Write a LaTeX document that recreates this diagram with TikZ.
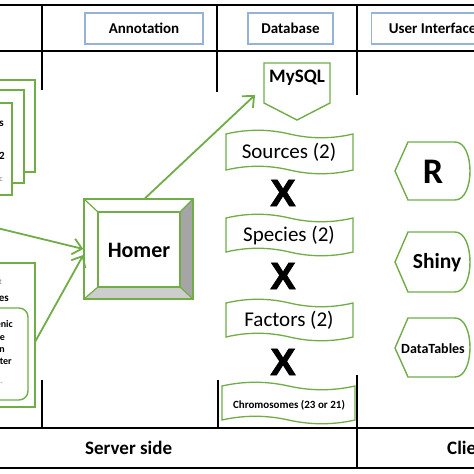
\documentclass[tikz,border=0pt]{standalone}
\usepackage{fontspec}
\setmainfont{Carlito}
\newfontfamily\xfont{Liberation Sans Bold}[FakeBold=2]
\usetikzlibrary{arrows.meta,calc}
\definecolor{grn}{RGB}{112,173,71}
\definecolor{hdr}{RGB}{149,179,215}
\definecolor{bevdark}{RGB}{165,165,165}
\definecolor{bevlight}{RGB}{205,205,205}
\tikzset{
  frame/.style={line width=2.2pt, black},
  hdrbox/.style={draw=hdr, line width=1.3pt, fill=white, inner sep=0pt, font=\fontsize{15}{17}\selectfont\bfseries},
  gbox/.style={draw=grn, line width=1.4pt, fill=white},
  tapebox/.style={draw=grn, line width=1.3pt, fill=white},
  garrow/.style={draw=grn, line width=1.8pt, -{Straight Barb[length=9pt,width=16pt]}},
  bigx/.style={font=\xfont\fontsize{38}{40}\selectfont},
  sidetxt/.style={font=\fontsize{19}{21}\selectfont\bfseries},
  lefttxt/.style={anchor=east, inner sep=0pt, font=\fontsize{11}{12}\selectfont\bfseries},
}
\newcommand\tapeshape[4]{%
  \pgfmathsetmacro\tw{#3-#1}%
  \draw[tapebox] (#1,#2) .. controls ({#1+\tw/6},{#2-5}) and ({#1+\tw/3},{#2-5}) .. ({#1+\tw/2},#2)
    .. controls ({#1+2*\tw/3},{#2+5}) and ({#1+5*\tw/6},{#2+5}) .. (#3,#2)
    -- (#3,#4) .. controls ({#1+5*\tw/6},{#4+5}) and ({#1+2*\tw/3},{#4+5}) .. ({#1+\tw/2},#4)
    .. controls ({#1+\tw/3},{#4-5}) and ({#1+\tw/6},{#4-5}) .. (#1,#4) -- cycle;}
\newcommand\dispshape[3]{% top mid bottom
  \draw[gbox] (395,#2) -- (408,#1) -- (455,#1) .. controls (475,#1) and (475,#3) .. (455,#3) -- (408,#3) -- cycle;}
\begin{document}
\begin{tikzpicture}[x=1pt,y=-1pt]
\useasboundingbox (0,0) rectangle (474,474);
\clip (0,0) rectangle (474,474);
\fill[white] (0,0) rectangle (474,474);

% frame lines
\draw[frame] (-5,5) -- (480,5);
\draw[frame] (-5,51) -- (480,51);
\draw[frame] (-5,428) -- (480,428);
\draw[frame] (-5,468) -- (480,468);
\draw[frame] (42,5) -- (42,90);
\draw[frame] (217,5) -- (217,92);
\draw[frame] (357,5) -- (357,95);
\draw[frame] (42,380) -- (42,428);
\draw[frame] (218,380) -- (218,428);
\draw[frame] (357,375) -- (357,468);

% headers
\node[hdrbox, minimum width=118pt, minimum height=31pt] (hann) at (144,28.5) {Annotation};
\node[hdrbox, minimum width=85pt, minimum height=31pt] (hdb) at (290.5,28.5) {Database};
\node[hdrbox, minimum width=110pt, minimum height=31pt, anchor=west] (hui) at (371,28.5) {\hspace*{12pt}User Interface\hfill};

% bottom labels
\node[sidetxt, anchor=west, inner sep=0pt] (server) at (85,448) {Server side};
\node[sidetxt, anchor=west, inner sep=0pt] (client) at (447,448) {Client side};

% left document stack
\draw[gbox] (-60,80) rectangle (35,172);
\draw[gbox] (-60,90) rectangle (24,183);
\draw[gbox] (-60,103) rectangle (12,195);
\node[lefttxt] (d1) at (4,123) {Peaks};
\node[lefttxt] (d2) at (5,157) {Rep 1 \& 2};
\node[lefttxt, font=\fontsize{8}{9}\selectfont, text=gray] (d3) at (3,179) {bed, etc};
\coordinate (stack) at (-3,228);

% lower left box
\draw[gbox] (-90,263) rectangle (35,407);
\coordinate (lowbox) at (35,342);
\node[lefttxt, font=\fontsize{8}{9}\selectfont, text=gray] (t1) at (2,283) {Input};
\node[lefttxt] (t2) at (9,298) {Genomic features};
\draw[gbox, rounded corners=9pt] (-70,308) rectangle (28,400);
\node[lefttxt, font=\fontsize{10}{11}\selectfont\bfseries] (f1) at (13,325) {Intergenic};
\node[lefttxt, font=\fontsize{10}{11}\selectfont\bfseries] (f2) at (5,337) {Exon base};
\node[lefttxt, font=\fontsize{10}{11}\selectfont\bfseries] (f3) at (5,349) {Intron};
\node[lefttxt, font=\fontsize{10}{11}\selectfont\bfseries] (f4) at (12,361) {Promoter};
\node[lefttxt, font=\fontsize{8}{9}\selectfont, text=gray] (f5) at (3,383) {TSS -};

% Homer bevel box
\node[draw=grn, line width=1.4pt, fill=white, minimum width=109pt, minimum height=100pt, inner sep=0pt] (homer) at (138.5,249) {};
\fill[bevdark] (193,199) -- (193,299) -- (180,287) -- (180,212) -- cycle;
\fill[bevlight] (84,299) -- (193,299) -- (180,287) -- (98,287) -- cycle;
\draw[grn, line width=1.4pt] (84,199) rectangle (193,299);
\draw[grn, line width=1.4pt] (98,212) rectangle (180,287);
\draw[grn, line width=1.2pt] (84,199) -- (98,212) (193,199) -- (180,212) (84,299) -- (98,287) (193,299) -- (180,287);
\node[font=\fontsize{22}{24}\selectfont\bfseries] (homertxt) at (139,250) {Homer};

% MySQL
\draw[gbox] (264,63) -- (330,63) -- (330,103) -- (297,120) -- (264,103) -- cycle;
\node[font=\fontsize{19}{21}\selectfont\bfseries] (mysql) at (297,78) {MySQL};
\coordinate (mysqlin) at (255,95);

% tapes
\tapeshape{226}{134}{353}{170}
\node[font=\fontsize{21}{23}\selectfont] (sources) at (289,152) {Sources (2)};
\node[bigx] (x1) at (283,193) {X};
\tapeshape{226}{218}{353}{252}
\node[font=\fontsize{21}{23}\selectfont] (species) at (289,236) {Species (2)};
\node[bigx] (x2) at (283,276) {X};
\tapeshape{226}{303}{353}{337}
\node[font=\fontsize{21}{23}\selectfont] (factors) at (289,320) {Factors (2)};
\node[bigx] (x3) at (283,362) {X};
\tapeshape{222}{386}{355}{420}
\node[font=\fontsize{11}{12}\selectfont\bfseries] (chrom) at (289,405) {Chromosomes (23 or 21)};

% UI shapes
\dispshape{142}{171}{200}
\node[font=\fontsize{36}{38}\selectfont\bfseries] (r) at (433,172) {R};
\dispshape{232}{262}{292}
\node[font=\fontsize{21.5}{23}\selectfont\bfseries] (shiny) at (437,263) {Shiny};
\dispshape{318}{348}{377}
\node[font=\fontsize{14}{16}\selectfont\bfseries] (dt) at (433,349) {DataTables};

% arrows
\draw[garrow] (stack) -- (homer.west);
\draw[garrow] (lowbox) -- ($(homer.west)+(0,6)$);
\draw[garrow] ($(homer.north)+(6.5,0)$) -- (mysqlin);
\end{tikzpicture}
\end{document}
